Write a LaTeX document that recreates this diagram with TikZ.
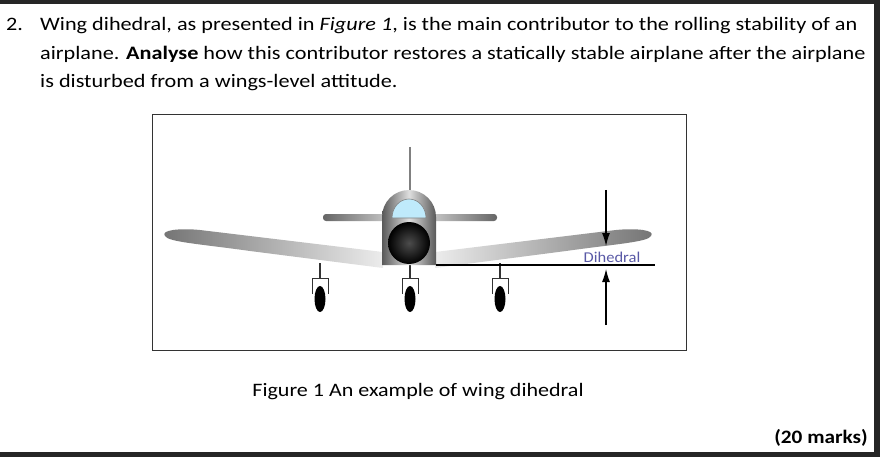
\documentclass[tikz,border=0pt]{standalone}
\usepackage{fontspec}
\usepackage{graphicx}
\usetikzlibrary{arrows.meta}
\setmainfont{Carlito}
\newcommand{\wide}[1]{\scalebox{1.17}[1]{#1}}
\begin{document}
\begin{tikzpicture}[x=1pt,y=-1pt,
  txt/.style={anchor=base west,inner sep=0,font=\fontsize{19}{20}\selectfont},
  gear/.style={draw=black!80,line width=1.5pt},
  dimarrow/.style={line width=1.2pt,-{Latex[length=13pt,width=8pt]}}]
\useasboundingbox (0,0) rectangle (880,457);
\fill[black!85] (0,0) rectangle (880,4);
\fill[black!85] (874,0) rectangle (880,457);
\fill[black!85] (0,452) rectangle (880,457);
\node[txt] (n) at (6,31) {\wide{2.}};
\node[txt] (l1) at (40,31) {\wide{Wing dihedral, as presented in \textit{Figure 1}, is the main contributor to the rolling stability of an}};
\node[txt] (l2) at (40,60) {\wide{airplane. \textbf{Analyse} how this contributor restores a statically stable airplane after the airplane}};
\node[txt] (l3) at (40,88) {\wide{is disturbed from a wings-level attitude.}};
\draw[line width=1pt,black!80] (152,115) rectangle (686,350);
% fin
\draw[line width=2pt,gray] (410,147) -- (410,192);
% tail
\shade[left color=gray!80!black,right color=gray!80!black,middle color=gray!20,rounded corners=3pt] (323,214) rectangle (497,221);
% gear
\foreach \x/\t in {320/263,410/265,500/263}{
  \draw[gear] (\x,\t) -- (\x,278);
  \draw[gear,line width=1pt] (\x-8,294) -- (\x-8,278) -- (\x+8,278) -- (\x+8,294);
  \fill[black] (\x,299) ellipse (5.5 and 13);
}
% wings
\shade[left color=gray!90!black,right color=gray!15] (165,236) .. controls (160,230) and (180,228) .. (200,230) -- (383,252) -- (383,268) -- (250,251) .. controls (200,244) and (168,242) .. (165,236) -- cycle;
\shade[right color=gray!90!black,left color=gray!15] (651,236) .. controls (656,230) and (636,228) .. (616,230) -- (435,252) -- (435,268) -- (566,251) .. controls (616,244) and (648,242) .. (651,236) -- cycle;
% fuselage
\shade[left color=gray!70!black,right color=gray!70!black,middle color=gray!25] (382,265) -- (382,217) arc (180:360:27) -- (436,265) -- cycle;
\fill[cyan!25] (392,218) arc (180:360:17 and 19) -- cycle;
\draw[gray,line width=0.6pt] (392,218) arc (180:360:17 and 19) -- cycle;
\shade[inner color=gray!60!black,outer color=black] (409,243) circle (21);
% dihedral
\draw[line width=1.3pt] (436,265) -- (655,265);
\coordinate (a1) at (606,190); \coordinate (a1e) at (606,246);
\coordinate (a2) at (606,325); \coordinate (a2e) at (606,269);
\draw[dimarrow] (a1) -- (a1e);
\draw[dimarrow] (a2) -- (a2e);
\node[anchor=base,inner sep=0,font=\fontsize{15}{15}\selectfont,text=gray!70!blue] (dh) at (612,262) {\scalebox{1.1}[1]{Dihedral}};
\node[anchor=base,inner sep=0,font=\fontsize{19}{20}\selectfont] (cap) at (418,396) {\scalebox{1.16}[1]{Figure 1 An example of wing dihedral}};
\node[anchor=base east,inner sep=0,font=\fontsize{19}{20}\selectfont\bfseries] (mk) at (868,443) {\scalebox{1.12}[1]{(20 marks)}};
\end{tikzpicture}
\end{document}
